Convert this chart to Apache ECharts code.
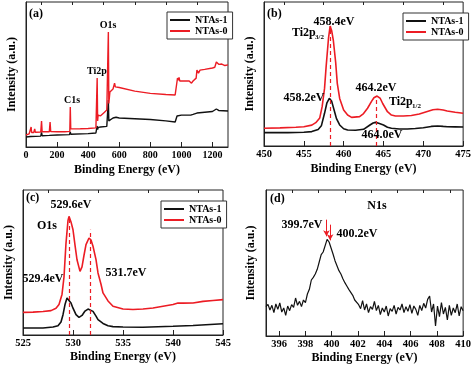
<!DOCTYPE html>
<html><head><meta charset="utf-8">
<script src="https://cdn.jsdelivr.net/npm/echarts@6/dist/echarts.min.js"></script>
<style>html,body{margin:0;padding:0;background:#fff}#c{width:474px;height:367px}</style>
</head><body><div id="c"></div>
<script>
// ---------- DATA ----------
// (a) survey spectrum [binding energy eV, intensity a.u.]
const surveyNTAs1 = [[0,6.9],[30,7.2],[33,8.5],[36,7.3],[95,7.5],[100,10],[104,7.8],[150,8],[155,9],[159,8.2],[200,8.3],[280,8.5],[285,10.5],[288,8.8],[300,9],[400,9.2],[450,9.7],[455,10.5],[458,14.5],[461,12],[465,13.5],[480,13.8],[520,14.2],[526,15],[530,32.4],[533,18],[540,18.6],[560,20],[580,20.5],[600,20],[700,19.5],[800,19],[900,18],[960,17.2],[966,18],[972,21.4],[980,21],[1000,22],[1060,22],[1075,22.5],[1080,21.5],[1100,23.4],[1150,24],[1200,24.5],[1225,26.2],[1240,25.2],[1300,24.8]];
const surveyNTAs0 = [[0,8.3],[20,9],[30,9.5],[33,13.8],[36,10],[50,10],[56,12.5],[60,10.2],[95,10.3],[100,17.9],[104,10.5],[150,10.5],[155,17.2],[159,10.6],[200,10.5],[250,10.5],[282,10.8],[285,27.6],[288,12.5],[300,13.1],[350,12.6],[400,12.8],[450,13.2],[455,14],[458,47.6],[461,18],[464,22],[467,21],[480,21.5],[500,23.5],[520,25.5],[526,26],[530,79.3],[533,30],[540,38],[545,39.3],[560,40],[570,44],[575,41.5],[600,41],[700,38.5],[800,37],[900,36.2],[960,35.9],[966,37],[975,47.6],[980,46],[985,48],[990,45.5],[1000,46],[1050,45.5],[1065,44],[1075,45.5],[1095,47.5],[1100,53],[1110,51],[1120,53],[1150,53.5],[1200,54.5],[1215,55],[1225,58.6],[1240,57],[1260,57.2],[1280,56.2],[1300,56.6]];
// (b) Ti2p
const ti2pNTAs1 = [[450,9.3],[453,9.3],[455,9.5],[456,10],[456.8,11.5],[457.2,14],[457.6,22.7],[457.9,30],[458.2,33.1],[458.5,31],[458.8,25],[459.1,19],[459.5,14.6],[460,12],[460.5,11.1],[461.5,10.9],[462.5,11.6],[463.3,14.6],[463.7,16],[464,16.4],[464.4,15.8],[465,14.6],[465.5,13],[466,12.3],[467,11.8],[468,11.8],[469,12.2],[470,12.7],[471,13.6],[471.8,13.9],[472.5,13.6],[473,13.4],[474,13.3],[475,13.2]];
const ti2pNTAs0 = [[450,12.3],[452,12.6],[454,13],[455,13.4],[456,14.5],[456.5,16.2],[457,19.5],[457.3,27.3],[457.6,40],[457.8,55.1],[458.1,75],[458.3,83.3],[458.5,80],[458.7,73.6],[459,58],[459.2,43.5],[459.5,33],[460,25],[460.5,21.5],[461,19.9],[462,20.4],[462.5,22.5],[463,26.2],[463.5,31],[463.8,33.5],[464.2,34.7],[464.6,33],[464.9,29.5],[465.5,23.8],[466,21.5],[466.5,20.8],[467.5,20.8],[468.5,21.2],[469.5,22.2],[470.5,24],[471.2,25.2],[471.8,25.5],[472.5,25],[473,24.3],[474,23.4],[475,22.7]];
const ti2pPeaks = [[458.3,83.3],[464.1,34.7]];
// (c) O1s
const o1sNTAs1 = [[525,4.8],[527,4.8],[528,5.5],[528.5,6.4],[528.8,9],[529,14],[529.2,21],[529.4,25.5],[529.6,25],[529.8,22.1],[530,18.5],[530.3,14],[530.6,12.2],[530.9,13.5],[531.2,16.5],[531.5,17.9],[531.7,17.8],[532,16.3],[532.3,13],[532.5,10.6],[533,8],[533.5,6.4],[534,5.8],[535,5.5],[537,5.3],[540,6],[542,6.5],[545,7.8]];
const o1sNTAs0 = [[525,15.6],[526,15.8],[527,16.2],[527.8,16.8],[528.3,18.5],[528.6,21],[528.9,28],[529.1,40],[529.3,63.4],[529.5,79],[529.6,81.8],[529.8,78],[530,72.6],[530.2,62],[530.4,51.9],[530.7,43.9],[530.9,47],[531.1,55],[531.3,62.3],[531.6,66.9],[531.8,65.5],[532,61.2],[532.3,52],[532.5,42.8],[532.8,35],[533,29],[533.5,23.5],[534,19.8],[535,17.9],[536,17.6],[537,17.9],[538,18.6],[539,19.8],[540,21],[540.5,22.1],[541,22],[542,22.1],[543,23.2],[544,23.8],[545,24.4]];
const o1sPeaks = [[529.6,81.8],[531.7,72.6]];
// (d) N1s
const n1sEnergy = [395.00,395.15,395.30,395.45,395.60,395.75,395.90,396.05,396.20,396.35,396.50,396.65,396.80,396.95,397.10,397.25,397.40,397.55,397.70,397.85,398.00,398.15,398.30,398.45,398.60,398.75,398.90,399.05,399.20,399.35,399.50,399.65,399.80,399.95,400.10,400.25,400.40,400.55,400.70,400.85,401.00,401.15,401.30,401.45,401.60,401.75,401.90,402.05,402.20,402.35,402.50,402.65,402.80,402.95,403.10,403.25,403.40,403.55,403.70,403.85,404.00,404.15,404.30,404.45,404.60,404.75,404.90,405.05,405.20,405.35,405.50,405.65,405.80,405.95,406.10,406.25,406.40,406.55,406.70,406.85,407.00,407.15,407.30,407.45,407.60,407.75,407.90,408.05,408.20,408.35,408.50,408.65,408.80,408.95,409.10,409.25,409.40,409.55,409.70,409.85,410.00];
const n1sCounts = [88,95,78,92,70,96,80,99,72,84,62,90,76,94,86,114,92,104,88,108,100,126,140,168,176,186,200,222,244,252,258,290,282,288,246,226,232,196,186,172,160,150,140,134,122,108,112,94,82,106,78,96,70,88,80,104,76,92,64,84,72,90,60,82,74,92,66,86,78,96,70,88,74,94,68,90,80,62,92,76,98,84,110,120,72,96,30,90,58,100,66,86,48,92,62,84,70,96,60,88,76];
const n1sArrows = [[399.6,349,299],[399.88,334,287]];
// ticks
const ticksA = [0,200,400,600,800,1000,1200], minorA = [100,300,500,700,900,1100];
const ticksB = [450,455,460,465,470,475], minorB = [452.5,457.5,462.5,467.5,472.5];
const ticksC = [525,530,535,540,545], minorC = [527.5,532.5,537.5,542.5];
const ticksD = [396,398,400,402,404,406,408,410], minorD = [397,399,401,403,405,407,409];
const names = ['NTAs-1','NTAs-0'];

// ---------- STYLE ----------
const FF = '"Liberation Serif","Times New Roman",serif';
const RED = '#ec1c24', BLK = '#111';
const grids = [
  {left:26, top:2, width:202, height:145},
  {left:264, top:2, width:201, height:144},
  {left:23, top:190, width:200, height:145},
  {left:266, top:190, width:201, height:146}
];
const xr = [[0,1300,ticksA,minorA,10,17],[450,475,ticksB,minorB,10.5,17],[525,545,ticksC,minorC,10.5,16],[395,410,ticksD,minorD,10.5,16]];
const yr = [[0,100,8],[0,100,8],[0,100,8],[0,438,9]];

const xAxis = [], yAxis = [];
xr.forEach((r,i)=>{
  xAxis.push({type:'value', gridIndex:i, min:r[0], max:r[1], name:'Binding Energy (eV)', nameLocation:'middle', nameGap:r[5],
    nameTextStyle:{fontFamily:FF, fontWeight:'bold', fontSize:12, color:'#000'},
    axisLine:{show:true, lineStyle:{color:'#222', width:1}},
    axisTick:{show:true, inside:true, length:5, customValues:r[2], lineStyle:{color:'#222'}},
    axisLabel:{show:true, customValues:r[2], margin:3, fontFamily:FF, fontWeight:'bold', fontSize:r[4], color:'#000',
      formatter:v=>String(v)},
    splitLine:{show:false}});
});
xr.forEach((r,i)=>{
  xAxis.push({type:'value', gridIndex:i, min:r[0], max:r[1], axisLine:{show:false},
    axisTick:{show:true, inside:true, length:3, customValues:r[3], lineStyle:{color:'#222'}},
    axisLabel:{show:false}, splitLine:{show:false}});
});
yr.forEach((r,i)=>{
  yAxis.push({type:'value', gridIndex:i, min:r[0], max:r[1], name:'Intensity (a.u.)', nameLocation:'middle', nameGap:r[2],
    nameTextStyle:{fontFamily:FF, fontWeight:'bold', fontSize:12, color:'#000'},
    axisLine:{show:true, lineStyle:{color:'#222'}}, axisTick:{show:false}, axisLabel:{show:false}, splitLine:{show:false}});
});

function line(name, data, gi, color, w, extra){
  return Object.assign({type:'line', name, data, xAxisIndex:gi, yAxisIndex:gi, showSymbol:false, symbol:'none',
    lineStyle:{color, width:w}, itemStyle:{color}, animation:false, z:3}, extra||{});
}
function dashes(peaks){
  return {silent:true, symbol:['none','none'], label:{show:false}, animation:false,
    lineStyle:{color:RED, type:[4,3], width:1.2},
    data: peaks.map(p=>[{coord:[p[0],0]},{coord:[p[0],p[1]]}])};
}
const series = [
  line(names[0], surveyNTAs1, 0, BLK, 1.4),
  line(names[1], surveyNTAs0, 0, RED, 1.4),
  line(names[0], ti2pNTAs1, 1, BLK, 1.6),
  line(names[1], ti2pNTAs0, 1, RED, 1.6, {markLine:dashes(ti2pPeaks)}),
  line(names[0], o1sNTAs1, 2, BLK, 1.6),
  line(names[1], o1sNTAs0, 2, RED, 1.6, {markLine:dashes(o1sPeaks)}),
  line('N1s', n1sEnergy.map((e,k)=>[e,n1sCounts[k]]), 3, BLK, 1.2, {markLine:{silent:true, symbol:['none','arrow'], symbolSize:[5,6],
    label:{show:false}, animation:false, lineStyle:{color:RED, type:'solid', width:1},
    data:n1sArrows.map(a=>[{coord:[a[0],a[1]]},{coord:[a[0],a[2]]}])}})
];
function legend(left, top){
  return {data:names, orient:'vertical', left, top, icon:'rect', itemWidth:20, itemHeight:2, itemGap:1, itemTextGap:4,
    padding:[3,5,3,3], borderColor:'#333', borderWidth:1, backgroundColor:'#fff', selectedMode:false,
    textStyle:{fontFamily:FF, fontWeight:'bold', fontSize:10, color:'#000', lineHeight:10}};
}
// annotations: [text, x, y, size, align]
const notes = [
  ['(a)',29,14,12,'left'],['O1s',108,25,10,'center'],['Ti2p',97,71,10,'center'],['C1s',72,100,10,'center'],
  ['(b)',267,14,12,'left'],['458.4eV',334,22,12,'center'],['Ti2p',292,33,12,'left'],['3/2',315,37,7,'left'],
  ['458.2eV',304,98,12,'center'],['464.2eV',376,88,12,'center'],['Ti2p',389,102,12,'left'],['1/2',412,106,7,'left'],
  ['464.0eV',382,135,12,'center'],
  ['(c)',26,198,12,'left'],['529.6eV',71,205,12,'center'],['O1s',47,226,12,'center'],['529.4eV',43,279,12,'center'],['531.7eV',126,273,12,'center'],
  ['(d)',270,199,12,'left'],['N1s',377,206,12,'center'],['399.7eV',302,225,12,'center'],['400.2eV',357,234,12,'center']
];
const graphic = notes.map(n=>({type:'text', x:n[1], y:n[2], z:10, silent:true,
  style:{text:n[0], font:'bold '+n[3]+'px '+FF, fill:'#000', align:n[4], verticalAlign:'middle'}}));

const chart = echarts.init(document.getElementById('c'), null, {renderer:'canvas'});
chart.setOption({
  animation:false, backgroundColor:'#fff',
  grid: grids.map(g=>Object.assign({show:true, borderColor:'#222', borderWidth:1, backgroundColor:'transparent', containLabel:false}, g)),
  xAxis, yAxis, series,
  legend:[legend(167,12), legend(403,13), legend(161,201)],
  graphic
});
</script></body></html>
